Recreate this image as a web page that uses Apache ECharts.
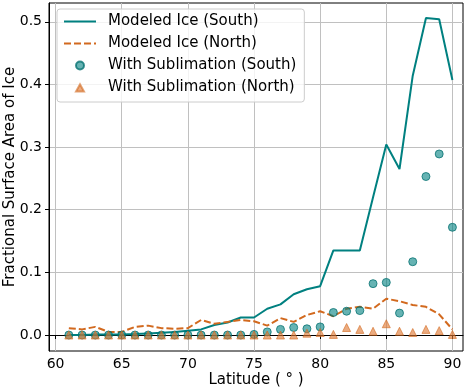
<!DOCTYPE html>
<html>
<head>
<meta charset="utf-8">
<script src="https://cdn.jsdelivr.net/npm/echarts@6/dist/echarts.min.js"></script>
<style>html,body{margin:0;padding:0;background:#fff;}#c{width:474px;height:392px;}</style>
</head>
<body>
<div id="c"></div>
<script>
const latitudes = [61,62,63,64,65,66,67,68,69,70,71,72,73,74,75,76,77,78,79,80,81,82,83,84,85,86,87,88,89,90];
const modeledSouth = [0.000,0.000,0.001,0.001,0.001,0.0015,0.0025,0.0035,0.005,0.007,0.009,0.016,0.020,0.028,0.028,0.042,0.049,0.065,0.073,0.078,0.135,0.135,0.135,0.220,0.304,0.265,0.414,0.506,0.504,0.407];
const modeledNorth = [0.011,0.009,0.013,0.005,0.005,0.013,0.015,0.011,0.010,0.011,0.024,0.018,0.021,0.024,0.022,0.015,0.027,0.021,0.032,0.038,0.030,0.042,0.045,0.042,0.058,0.054,0.048,0.045,0.033,0.009];
const sublimSouth = [0,0,0,0,0,0,0,0,0,0,0,0,0,0,0.001,0.005,0.009,0.012,0.010,0.013,0.036,0.038,0.039,0.082,0.084,0.035,0.117,0.253,0.289,0.172];
const sublimNorth = [0,0,0,0,0,0,0,0,0,0,0,0,0,0,0,0,0,0,0.003,0.004,0.001,0.012,0.009,0.006,0.018,0.006,0.004,0.009,0.007,0.001];
const xTicks = [60,65,70,75,80,85,90];
const yTicks = [0.0,0.1,0.2,0.3,0.4,0.5];
const seriesNames = ['Modeled Ice (South)','Modeled Ice (North)','With Sublimation (South)','With Sublimation (North)'];

const pair = (ys) => latitudes.map((x, i) => [x, ys[i]]);
const FONT = 'DejaVu Sans';

const chart = echarts.init(document.getElementById('c'), null, {renderer: 'canvas'});
chart.setOption({
  animation: false,
  backgroundColor: '#ffffff',
  textStyle: {fontFamily: FONT},
  grid: {left: 49, right: 11, top: 3, bottom: 41, show: true, borderColor: '#000', borderWidth: 1, containLabel: false, outerBoundsMode: 'none'},
  legend: {
    data: [
      {name: seriesNames[0], itemStyle: {opacity: 0}},
      {name: seriesNames[1], itemStyle: {opacity: 0}},
      {name: seriesNames[2]},
      {name: seriesNames[3], icon: 'path://M0,0M32,8M12,8L16,0.8L20,8Z'}
    ],
    orient: 'vertical',
    left: 57, top: 9,
    padding: [5, 8, 7, 6],
    itemWidth: 32, itemHeight: 8, itemGap: 7,
    symbolKeepAspect: true,
    backgroundColor: 'rgba(255,255,255,0.8)',
    borderColor: '#cccccc', borderWidth: 1, borderRadius: 3,
    textStyle: {fontFamily: FONT, fontSize: 15, color: '#000', padding: [0,0,0,7]},
    z: 10
  },
  xAxis: {
    type: 'value', min: 59.5, max: 90.8,
    axisLine: {show: true, lineStyle: {color: '#000', width: 1}},
    axisTick: {show: true, inside: false, length: 4, customValues: xTicks, lineStyle: {color: '#000'}},
    axisLabel: {customValues: xTicks, fontSize: 14, color: '#000', margin: 6, fontFamily: FONT},
    splitLine: {show: true, lineStyle: {color: '#c0c0c0', width: 1}},
    name: 'Latitude ( ° )', nameLocation: 'middle', nameGap: 22, nameMoveOverlap: false,
    nameTextStyle: {fontSize: 15, color: '#000', fontFamily: FONT}
  },
  yAxis: {
    type: 'value', min: -0.0255, max: 0.53,
    axisLine: {show: true, lineStyle: {color: '#000', width: 1}},
    axisTick: {show: true, inside: false, length: 4, customValues: yTicks, lineStyle: {color: '#000'}},
    axisLabel: {customValues: yTicks, fontSize: 14, color: '#000', margin: 7, fontFamily: FONT, formatter: v => v.toFixed(1)},
    splitLine: {show: true, lineStyle: {color: '#c0c0c0', width: 1}},
    name: 'Fractional Surface Area of Ice', nameLocation: 'middle', nameGap: 31, nameRotate: 90, nameMoveOverlap: false,
    nameTextStyle: {fontSize: 15, color: '#000', fontFamily: FONT}
  },
  series: [
    {name: seriesNames[0], type: 'line', data: pair(modeledSouth), symbol: 'none', z: 3,
     lineStyle: {color: '#008080', width: 2}, itemStyle: {color: '#008080'}},
    {name: seriesNames[1], type: 'line', data: pair(modeledNorth), symbol: 'none', z: 3,
     lineStyle: {color: '#d2691e', width: 2, type: [7, 3]}, itemStyle: {color: '#d2691e'}},
    {name: seriesNames[2], type: 'scatter', data: pair(sublimSouth), symbol: 'circle', symbolSize: 8, z: 4,
     itemStyle: {color: 'rgba(0,128,128,0.6)', borderColor: 'rgba(0,110,110,0.75)', borderWidth: 1, opacity: 1}},
    {name: seriesNames[3], type: 'scatter', data: pair(sublimNorth), symbol: 'triangle', symbolSize: 8, z: 5,
     itemStyle: {color: 'rgba(222,120,50,0.62)', borderColor: 'rgba(210,105,30,0.6)', borderWidth: 1, opacity: 1}}
  ]
});
</script>
</body>
</html>
